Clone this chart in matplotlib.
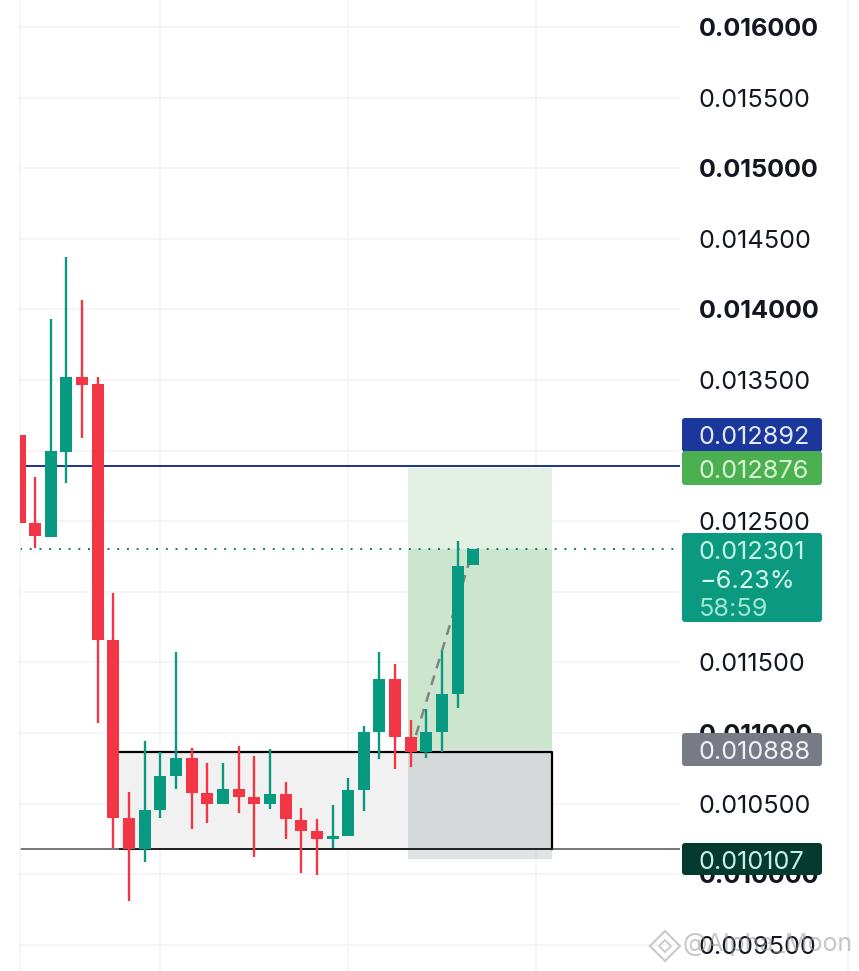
import numpy as np
import matplotlib

matplotlib.use("Agg")
import matplotlib.pyplot as plt
from matplotlib.patches import FancyBboxPatch, Rectangle

plt.rcParams["font.family"] = ["Inter", "DejaVu Sans"]

# prices in 1e-3 units
opens = [13.111, 12.487, 12.388, 12.990, 13.521, 13.472, 11.659, 10.398, 10.179, 10.455, 10.696,
         10.823, 10.575, 10.497, 10.604, 10.547, 10.497, 10.568, 10.384, 10.306, 10.249, 10.271,
         10.596, 11.007, 11.383, 10.972, 10.866, 11.007, 11.276, 12.190]
closes = [12.487, 12.395, 12.997, 13.521, 13.465, 11.659, 10.398, 10.179, 10.455, 10.696, 10.823,
          10.575, 10.497, 10.604, 10.547, 10.497, 10.568, 10.391, 10.306, 10.249, 10.271, 10.596,
          11.007, 11.383, 10.972, 10.866, 11.007, 11.276, 12.183, 12.303]
highs = [13.111, 12.813, 13.932, 14.371, 14.067, 13.521, 11.992, 10.582, 10.943, 10.866, 11.574,
         10.894, 10.788, 10.788, 10.908, 10.837, 10.887, 10.653, 10.469, 10.391, 10.490, 10.681,
         11.050, 11.574, 11.489, 11.092, 11.170, 11.581, 12.360, 12.303]
lows = [12.487, 12.310, 12.388, 12.771, 13.089, 11.071, 10.186, 9.810, 10.087, 10.398, 10.604,
        10.320, 10.363, 10.497, 10.434, 10.122, 10.462, 10.249, 10.009, 9.994, 10.186, 10.271,
        10.448, 10.816, 10.745, 10.759, 10.823, 10.866, 11.177, 12.190]

tick_prices = [9.5, 10.0, 10.5, 11.0, 11.5, 12.0, 12.5, 13.0, 13.5, 14.0, 14.5, 15.0, 15.5, 16.0]
vgrid_bars = [9, 21, 33]

line_blue = 12.892
line_support = 10.179
last_price = 12.303
box_top = 10.866
entry = 10.888
stop = 10.107
target = 12.876

RED = "#f23645"
GREEN = "#089981"
GRID = "#f1f2f4"
TEXT = "#131722"

BAR_STEP = 15.65  # px per bar
PX_PER_UNIT = 141.2
FONT_SIZE = 18.2
ZONE_LEFT = 24.85

fig = plt.figure(figsize=(8.59, 9.71), dpi=100, facecolor="white")
ax = fig.add_axes([20 / 859, 0, 660 / 859, 1])
ax.set_xlim(0.5 / BAR_STEP, 660.5 / BAR_STEP)
ax.set_ylim(16 - 944 / PX_PER_UNIT, 16 + 27 / PX_PER_UNIT)

for side in ("top", "right", "bottom"):
    ax.spines[side].set_visible(False)
ax.spines["left"].set_color(GRID)
ax.spines["left"].set_linewidth(1.1)

ax.set_axisbelow(True)
ax.set_xticks(vgrid_bars)
ax.set_xticklabels([])
ax.set_yticks(tick_prices)
ax.set_yticklabels([f"{p / 1000:.6f}" for p in tick_prices])
ax.yaxis.tick_right()
ax.tick_params(axis="both", length=0)
ax.tick_params(axis="y", pad=13.5, labelsize=FONT_SIZE, labelcolor=TEXT)
for p, label in zip(tick_prices, ax.get_yticklabels()):
    if float(p).is_integer():
        label.set_fontweight("bold")
ax.grid(True, color=GRID, linewidth=1.1)

# consolidation box
ax.add_patch(Rectangle((6.4, line_support), 34 - 6.4, box_top - line_support,
                       facecolor="#f1f1f1", edgecolor="none", zorder=1))

# long position tool
ax.add_patch(Rectangle((ZONE_LEFT, last_price), 34 - ZONE_LEFT, target - last_price,
                       facecolor="#e4f0e4", edgecolor="none", zorder=1.2))
ax.add_patch(Rectangle((ZONE_LEFT, entry), 34 - ZONE_LEFT, last_price - entry,
                       facecolor="#cce6cd", edgecolor="none", zorder=1.2))
ax.add_patch(Rectangle((ZONE_LEFT, stop), 34 - ZONE_LEFT, entry - stop,
                       facecolor="#8f9a9a", alpha=0.27, edgecolor="none", zorder=1.2))

ax.axhline(line_blue, xmin=5 / 660, color="#1f3192", linewidth=1.4, zorder=2)
ax.axhline(line_support, color="#5d5f60", linewidth=1.2, zorder=2)
ax.plot([6.4, 34, 34], [box_top, box_top, line_support], color="black", linewidth=1.6, zorder=2.1)
ax.plot([6.4, 34], [line_support, line_support], color="#222222", linewidth=1.4, zorder=2.1)
ax.axhline(last_price, color="#0b7f6b", linewidth=1.4, linestyle=(0, (1, 4)), zorder=2.2)

ax.plot([25, 29], [box_top, last_price], color="#7f8585", linewidth=1.8,
        linestyle=(0, (4, 3)), zorder=2.3)

idx = np.arange(len(opens))
o = np.array(opens)
c = np.array(closes)
colors = [GREEN if cl > op else RED for op, cl in zip(o, c)]
ax.vlines(idx, lows, highs, colors=colors, linewidth=1.7, zorder=3)
ax.bar(idx, np.abs(c - o), bottom=np.minimum(o, c), width=12 / BAR_STEP, color=colors, zorder=3.1)

# overlay in pixel coords for tags and watermark
tag_ax = fig.add_axes([0, 0, 1, 1], facecolor="none")
tag_ax.set_xlim(0, 859)
tag_ax.set_ylim(971, 0)
tag_ax.axis("off")
tag_ax.axvline(848, color=GRID, linewidth=1.1, zorder=0)


def add_tag(top, bottom, color):
    tag_ax.add_patch(FancyBboxPatch((682, top), 140, bottom - top,
                                    boxstyle="round,pad=0,rounding_size=3",
                                    facecolor=color, edgecolor="none", zorder=3))


def tag_text(y, text, color):
    tag_ax.text(699, y, text, color=color, fontsize=FONT_SIZE, va="center_baseline", ha="left", zorder=4)


add_tag(418, 452, "#1b379c")
add_tag(451, 485, "#4caf50")
add_tag(533, 622, "#0b9a80")
add_tag(733, 766, "#787b86")
add_tag(843, 875, "#053a2e")

tag_text(435, "0.012892", "#e4e9fb")
tag_text(469, "0.012876", "#d8f5d6")
tag_text(550, "0.012301", "#c5f2e6")
tag_text(579, "\u22126.23%", "#d4f6ec")
tag_text(607, "58:59", "#9fe6d3")
tag_text(750, "0.010888", "#f0f1f4")
tag_text(860, "0.010107", "#c9efe6")

# watermark
tag_ax.text(683, 945, "@Alpha_Moon", color="#9a9a9a", alpha=0.55, fontsize=18,
            va="center", ha="left", zorder=5)
tag_ax.plot([665], [946], marker="D", markersize=15, markerfacecolor="none",
            markeredgecolor="#c9c9c9", markeredgewidth=1.5, zorder=5)
tag_ax.plot([665], [946], marker="D", markersize=6, markerfacecolor="none",
            markeredgecolor="#c9c9c9", markeredgewidth=1.3, zorder=5)

fig.savefig("out.png", dpi=100)
plt.close(fig)
